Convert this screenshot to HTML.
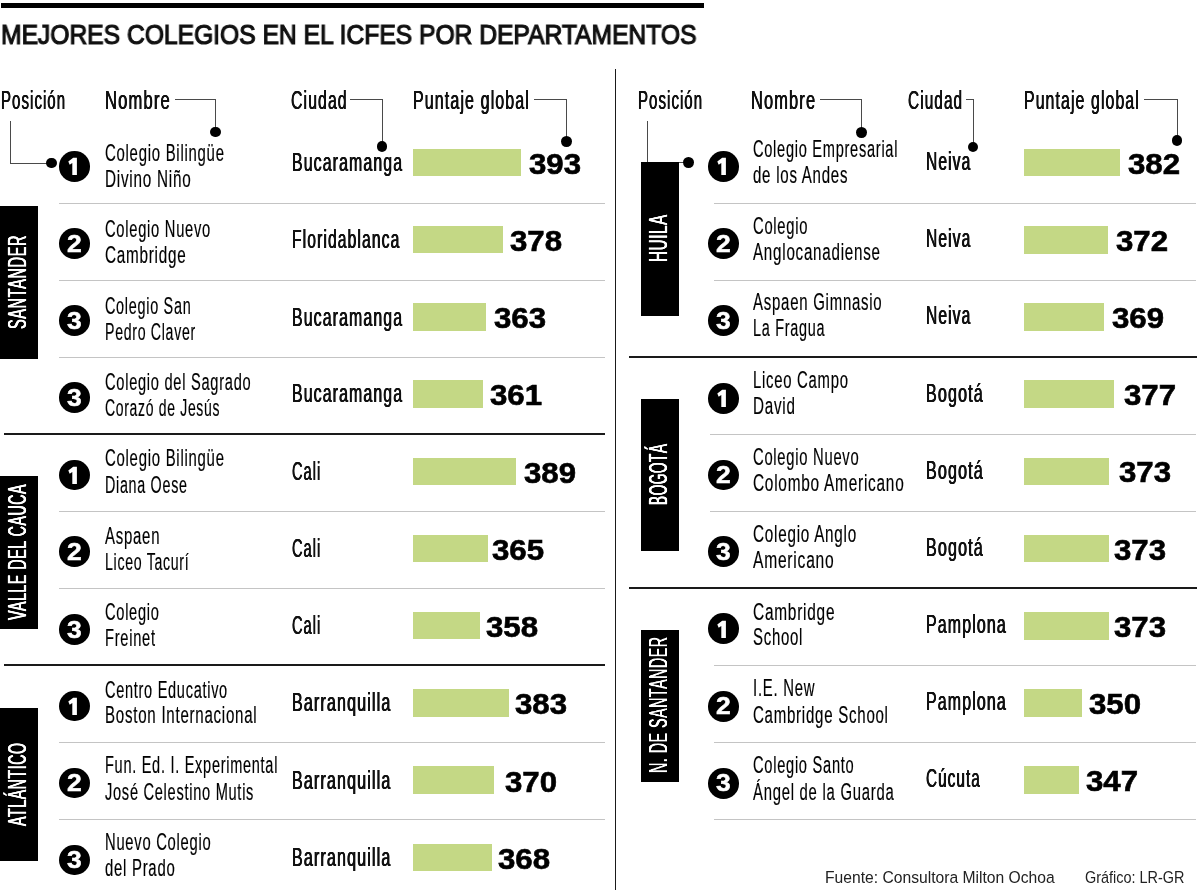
<!DOCTYPE html>
<html lang="es"><head><meta charset="utf-8"><title>Mejores colegios en el ICFES por departamentos</title>
<style>
html,body{margin:0;padding:0;background:#fff}
body{width:1200px;height:893px;position:relative;overflow:hidden;font-family:"Liberation Sans",sans-serif;color:#111}
#g div{position:absolute}
#t{will-change:transform}
#t span{position:absolute;white-space:nowrap;line-height:1;transform-origin:0 0;display:block}
.hdr{font-size:25px;color:#111;letter-spacing:0.07em;text-shadow:-.4px 0 #111,.4px 0 #111}
.city{font-size:25px;color:#111;letter-spacing:0.07em;text-shadow:-.5px 0 #111,.5px 0 #111}
.name{font-size:24.3px;color:#000;-webkit-text-stroke:.2px #000;letter-spacing:0.05em}
.title{font-size:26.9px;color:#111;-webkit-text-stroke:1.2px #111}
.foot{font-size:16.3px;color:#222}
.dept{font-size:25.5px;color:#fff;-webkit-text-stroke:.2px #fff;letter-spacing:0.04em;text-shadow:-.35px 0 #fff,.35px 0 #fff}
.num{font-size:29.4px;color:#000;font-weight:bold;-webkit-text-stroke:.6px #000}
.cnum{font-size:24.5px;color:#fff;font-weight:bold;-webkit-text-stroke:.5px #fff}

</style></head><body>
<div id="g">
<div style="left:1.00px;top:2.60px;width:703.00px;height:5.40px;background:#000"></div>
<div style="left:614.60px;top:68.75px;width:1.80px;height:821.50px;background:#1a1a1a"></div>
<div style="left:9.90px;top:121.10px;width:1.00px;height:42.40px;background:#4a4a4a"></div>
<div style="left:9.90px;top:162.50px;width:37.60px;height:1.00px;background:#4a4a4a"></div>
<div style="left:46.30px;top:157.70px;width:10.80px;height:10.80px;background:#000;border-radius:50%"></div>
<div style="left:174.50px;top:99.00px;width:41.50px;height:1.00px;background:#4a4a4a"></div>
<div style="left:215.00px;top:99.00px;width:1.00px;height:29.50px;background:#4a4a4a"></div>
<div style="left:210.10px;top:126.60px;width:10.80px;height:10.80px;background:#000;border-radius:50%"></div>
<div style="left:349.80px;top:99.20px;width:32.70px;height:1.00px;background:#4a4a4a"></div>
<div style="left:381.50px;top:99.20px;width:1.00px;height:43.30px;background:#4a4a4a"></div>
<div style="left:376.60px;top:141.00px;width:10.80px;height:10.80px;background:#000;border-radius:50%"></div>
<div style="left:533.70px;top:99.20px;width:33.00px;height:1.00px;background:#4a4a4a"></div>
<div style="left:565.70px;top:99.20px;width:1.00px;height:38.30px;background:#4a4a4a"></div>
<div style="left:560.80px;top:135.90px;width:10.80px;height:10.80px;background:#000;border-radius:50%"></div>
<div style="left:647.00px;top:120.75px;width:1.00px;height:42.05px;background:#4a4a4a"></div>
<div style="left:647.00px;top:161.80px;width:37.50px;height:1.00px;background:#4a4a4a"></div>
<div style="left:683.35px;top:157.10px;width:10.80px;height:10.80px;background:#000;border-radius:50%"></div>
<div style="left:820.00px;top:98.75px;width:41.75px;height:1.00px;background:#4a4a4a"></div>
<div style="left:860.75px;top:98.75px;width:1.00px;height:29.75px;background:#4a4a4a"></div>
<div style="left:855.85px;top:127.10px;width:10.80px;height:10.80px;background:#000;border-radius:50%"></div>
<div style="left:965.75px;top:98.75px;width:7.75px;height:1.00px;background:#4a4a4a"></div>
<div style="left:972.50px;top:98.75px;width:1.00px;height:44.75px;background:#4a4a4a"></div>
<div style="left:967.60px;top:141.60px;width:10.80px;height:10.80px;background:#000;border-radius:50%"></div>
<div style="left:1144.00px;top:98.75px;width:33.50px;height:1.00px;background:#4a4a4a"></div>
<div style="left:1176.50px;top:98.75px;width:1.00px;height:38.75px;background:#4a4a4a"></div>
<div style="left:1171.60px;top:135.35px;width:10.80px;height:10.80px;background:#000;border-radius:50%"></div>
<div style="left:59.10px;top:150.90px;width:30.70px;height:30.70px;background:#000;border-radius:50%"></div>
<svg style="position:absolute;left:62.45px;top:154.25px" width="24" height="24" viewBox="0 0 24 24"><polygon points="11.2,3.7 14.9,3.7 14.9,20.9 10.3,20.9 10.3,9.0 7.7,10.8 6.3,7.4" fill="#fff"/></svg>
<div style="left:413.20px;top:148.70px;width:107.70px;height:27.50px;background:#c4d885"></div>
<div style="left:59.10px;top:228.40px;width:30.70px;height:30.70px;background:#000;border-radius:50%"></div>
<div style="left:413.20px;top:225.80px;width:89.80px;height:27.70px;background:#c4d885"></div>
<div style="left:59.10px;top:305.15px;width:30.70px;height:30.70px;background:#000;border-radius:50%"></div>
<div style="left:413.20px;top:303.20px;width:72.80px;height:27.80px;background:#c4d885"></div>
<div style="left:59.10px;top:382.15px;width:30.70px;height:30.70px;background:#000;border-radius:50%"></div>
<div style="left:413.20px;top:380.00px;width:70.30px;height:28.00px;background:#c4d885"></div>
<div style="left:59.10px;top:459.65px;width:30.70px;height:30.70px;background:#000;border-radius:50%"></div>
<svg style="position:absolute;left:62.45px;top:463.00px" width="24" height="24" viewBox="0 0 24 24"><polygon points="11.2,3.7 14.9,3.7 14.9,20.9 10.3,20.9 10.3,9.0 7.7,10.8 6.3,7.4" fill="#fff"/></svg>
<div style="left:413.20px;top:457.70px;width:102.80px;height:27.20px;background:#c4d885"></div>
<div style="left:59.10px;top:536.40px;width:30.70px;height:30.70px;background:#000;border-radius:50%"></div>
<div style="left:413.20px;top:534.60px;width:75.10px;height:27.20px;background:#c4d885"></div>
<div style="left:59.10px;top:614.15px;width:30.70px;height:30.70px;background:#000;border-radius:50%"></div>
<div style="left:413.20px;top:612.00px;width:66.80px;height:27.40px;background:#c4d885"></div>
<div style="left:59.10px;top:690.65px;width:30.70px;height:30.70px;background:#000;border-radius:50%"></div>
<svg style="position:absolute;left:62.45px;top:694.00px" width="24" height="24" viewBox="0 0 24 24"><polygon points="11.2,3.7 14.9,3.7 14.9,20.9 10.3,20.9 10.3,9.0 7.7,10.8 6.3,7.4" fill="#fff"/></svg>
<div style="left:413.20px;top:689.30px;width:95.80px;height:27.50px;background:#c4d885"></div>
<div style="left:59.10px;top:767.65px;width:30.70px;height:30.70px;background:#000;border-radius:50%"></div>
<div style="left:413.20px;top:766.40px;width:80.80px;height:27.60px;background:#c4d885"></div>
<div style="left:59.10px;top:844.65px;width:30.70px;height:30.70px;background:#000;border-radius:50%"></div>
<div style="left:413.20px;top:843.80px;width:78.80px;height:27.50px;background:#c4d885"></div>
<div style="left:58.90px;top:203.00px;width:546.10px;height:1.00px;background:#c4c4c4"></div>
<div style="left:58.90px;top:280.00px;width:546.10px;height:1.00px;background:#c4c4c4"></div>
<div style="left:58.90px;top:357.00px;width:546.10px;height:1.00px;background:#c4c4c4"></div>
<div style="left:58.90px;top:510.80px;width:546.10px;height:1.00px;background:#c4c4c4"></div>
<div style="left:58.90px;top:587.70px;width:546.10px;height:1.00px;background:#c4c4c4"></div>
<div style="left:58.90px;top:741.70px;width:546.10px;height:1.00px;background:#c4c4c4"></div>
<div style="left:58.90px;top:818.80px;width:546.10px;height:1.00px;background:#c4c4c4"></div>
<div style="left:3.75px;top:433.10px;width:601.25px;height:1.80px;background:#1a1a1a"></div>
<div style="left:3.75px;top:664.10px;width:601.25px;height:1.80px;background:#1a1a1a"></div>
<div style="left:0.00px;top:205.50px;width:38.00px;height:153.25px;background:#000"></div>
<div style="left:0.00px;top:475.50px;width:38.00px;height:153.50px;background:#000"></div>
<div style="left:0.00px;top:707.60px;width:38.00px;height:153.40px;background:#000"></div>
<div style="left:707.95px;top:150.90px;width:30.70px;height:30.70px;background:#000;border-radius:50%"></div>
<svg style="position:absolute;left:711.30px;top:154.25px" width="24" height="24" viewBox="0 0 24 24"><polygon points="11.2,3.7 14.9,3.7 14.9,20.9 10.3,20.9 10.3,9.0 7.7,10.8 6.3,7.4" fill="#fff"/></svg>
<div style="left:1024.25px;top:148.75px;width:95.25px;height:27.50px;background:#c4d885"></div>
<div style="left:707.95px;top:228.40px;width:30.70px;height:30.70px;background:#000;border-radius:50%"></div>
<div style="left:1024.25px;top:225.75px;width:83.25px;height:28.00px;background:#c4d885"></div>
<div style="left:707.95px;top:305.15px;width:30.70px;height:30.70px;background:#000;border-radius:50%"></div>
<div style="left:1024.25px;top:303.00px;width:80.00px;height:27.50px;background:#c4d885"></div>
<div style="left:707.95px;top:382.90px;width:30.70px;height:30.70px;background:#000;border-radius:50%"></div>
<svg style="position:absolute;left:711.30px;top:386.25px" width="24" height="24" viewBox="0 0 24 24"><polygon points="11.2,3.7 14.9,3.7 14.9,20.9 10.3,20.9 10.3,9.0 7.7,10.8 6.3,7.4" fill="#fff"/></svg>
<div style="left:1024.25px;top:380.00px;width:89.50px;height:27.50px;background:#c4d885"></div>
<div style="left:707.95px;top:459.65px;width:30.70px;height:30.70px;background:#000;border-radius:50%"></div>
<div style="left:1024.25px;top:457.50px;width:84.50px;height:27.00px;background:#c4d885"></div>
<div style="left:707.95px;top:536.40px;width:30.70px;height:30.70px;background:#000;border-radius:50%"></div>
<div style="left:1024.25px;top:534.50px;width:84.50px;height:27.50px;background:#c4d885"></div>
<div style="left:707.95px;top:613.40px;width:30.70px;height:30.70px;background:#000;border-radius:50%"></div>
<svg style="position:absolute;left:711.30px;top:616.75px" width="24" height="24" viewBox="0 0 24 24"><polygon points="11.2,3.7 14.9,3.7 14.9,20.9 10.3,20.9 10.3,9.0 7.7,10.8 6.3,7.4" fill="#fff"/></svg>
<div style="left:1024.25px;top:612.00px;width:84.50px;height:27.50px;background:#c4d885"></div>
<div style="left:707.95px;top:690.90px;width:30.70px;height:30.70px;background:#000;border-radius:50%"></div>
<div style="left:1024.25px;top:688.75px;width:57.75px;height:28.00px;background:#c4d885"></div>
<div style="left:707.95px;top:767.90px;width:30.70px;height:30.70px;background:#000;border-radius:50%"></div>
<div style="left:1024.25px;top:766.25px;width:54.75px;height:27.50px;background:#c4d885"></div>
<div style="left:713.75px;top:202.75px;width:482.25px;height:1.00px;background:#c4c4c4"></div>
<div style="left:713.75px;top:280.00px;width:482.25px;height:1.00px;background:#c4c4c4"></div>
<div style="left:710.00px;top:434.25px;width:486.00px;height:1.00px;background:#c4c4c4"></div>
<div style="left:710.00px;top:511.25px;width:486.00px;height:1.00px;background:#c4c4c4"></div>
<div style="left:713.75px;top:665.00px;width:482.25px;height:1.00px;background:#c4c4c4"></div>
<div style="left:713.75px;top:742.00px;width:482.25px;height:1.00px;background:#c4c4c4"></div>
<div style="left:713.75px;top:818.75px;width:482.25px;height:1.00px;background:#c4c4c4"></div>
<div style="left:628.75px;top:356.30px;width:568.00px;height:1.80px;background:#1a1a1a"></div>
<div style="left:628.75px;top:587.10px;width:568.00px;height:1.80px;background:#1a1a1a"></div>
<div style="left:641.25px;top:162.00px;width:38.00px;height:153.50px;background:#000"></div>
<div style="left:641.25px;top:398.75px;width:38.00px;height:152.50px;background:#000"></div>
<div style="left:641.25px;top:629.50px;width:38.00px;height:152.50px;background:#000"></div>
</div>
<div id="t">
<span class="title" style="left:0.80px;top:21.63px;transform:scaleX(0.9162)">MEJORES COLEGIOS EN EL ICFES POR DEPARTAMENTOS</span>
<span class="hdr" style="left:1.30px;top:87.84px;transform:scaleX(0.6005)">Posición</span>
<span class="hdr" style="left:104.60px;top:87.84px;transform:scaleX(0.6634)">Nombre</span>
<span class="hdr" style="left:290.90px;top:87.84px;transform:scaleX(0.6319)">Ciudad</span>
<span class="hdr" style="left:412.80px;top:87.84px;transform:scaleX(0.6396)">Puntaje global</span>
<span class="hdr" style="left:638.05px;top:87.74px;transform:scaleX(0.6005)">Posición</span>
<span class="hdr" style="left:750.90px;top:87.74px;transform:scaleX(0.6558)">Nombre</span>
<span class="hdr" style="left:908.40px;top:87.74px;transform:scaleX(0.6143)">Ciudad</span>
<span class="hdr" style="left:1023.90px;top:87.74px;transform:scaleX(0.6335)">Puntaje global</span>
<span class="name" style="left:104.90px;top:140.78px;transform:scaleX(0.6137)">Colegio Bilingüe</span>
<span class="name" style="left:104.90px;top:167.03px;transform:scaleX(0.6283)">Divino Niño</span>
<span class="city" style="left:292.40px;top:149.89px;transform:scaleX(0.6358)">Bucaramanga</span>
<span class="num" style="left:528.80px;top:148.81px;transform:scaleX(1.0622)">393</span>
<span class="cnum" style="left:66.88px;top:231.96px;transform:scaleX(1.0800)">2</span>
<span class="name" style="left:104.90px;top:217.03px;transform:scaleX(0.6047)">Colegio Nuevo</span>
<span class="name" style="left:104.90px;top:243.03px;transform:scaleX(0.6277)">Cambridge</span>
<span class="city" style="left:292.40px;top:227.09px;transform:scaleX(0.6271)">Floridablanca</span>
<span class="num" style="left:510.40px;top:226.01px;transform:scaleX(1.0622)">378</span>
<span class="cnum" style="left:66.88px;top:308.71px;transform:scaleX(1.0800)">3</span>
<span class="name" style="left:104.90px;top:293.78px;transform:scaleX(0.5929)">Colegio San</span>
<span class="name" style="left:104.90px;top:319.53px;transform:scaleX(0.5813)">Pedro Claver</span>
<span class="city" style="left:292.40px;top:304.54px;transform:scaleX(0.6358)">Bucaramanga</span>
<span class="num" style="left:494.20px;top:303.46px;transform:scaleX(1.0622)">363</span>
<span class="cnum" style="left:66.88px;top:385.71px;transform:scaleX(1.0800)">3</span>
<span class="name" style="left:104.90px;top:370.03px;transform:scaleX(0.6019)">Colegio del Sagrado</span>
<span class="name" style="left:104.90px;top:396.28px;transform:scaleX(0.5742)">Corazó de Jesús</span>
<span class="city" style="left:292.40px;top:381.44px;transform:scaleX(0.6358)">Bucaramanga</span>
<span class="num" style="left:489.90px;top:380.36px;transform:scaleX(1.0622)">361</span>
<span class="name" style="left:104.90px;top:446.28px;transform:scaleX(0.6137)">Colegio Bilingüe</span>
<span class="name" style="left:104.90px;top:473.03px;transform:scaleX(0.5885)">Diana Oese</span>
<span class="city" style="left:292.40px;top:458.74px;transform:scaleX(0.5835)">Cali</span>
<span class="num" style="left:524.40px;top:457.66px;transform:scaleX(1.0622)">389</span>
<span class="cnum" style="left:66.88px;top:539.96px;transform:scaleX(1.0800)">2</span>
<span class="name" style="left:104.90px;top:523.78px;transform:scaleX(0.6153)">Aspaen</span>
<span class="name" style="left:104.90px;top:550.03px;transform:scaleX(0.5816)">Liceo Tacurí</span>
<span class="city" style="left:292.40px;top:535.64px;transform:scaleX(0.5835)">Cali</span>
<span class="num" style="left:492.40px;top:534.56px;transform:scaleX(1.0622)">365</span>
<span class="cnum" style="left:66.88px;top:617.71px;transform:scaleX(1.0800)">3</span>
<span class="name" style="left:104.90px;top:600.33px;transform:scaleX(0.6015)">Colegio</span>
<span class="name" style="left:104.90px;top:626.03px;transform:scaleX(0.6025)">Freinet</span>
<span class="city" style="left:292.40px;top:613.14px;transform:scaleX(0.5835)">Cali</span>
<span class="num" style="left:486.30px;top:612.06px;transform:scaleX(1.0622)">358</span>
<span class="name" style="left:104.90px;top:677.53px;transform:scaleX(0.5972)">Centro Educativo</span>
<span class="name" style="left:104.90px;top:703.03px;transform:scaleX(0.6202)">Boston Internacional</span>
<span class="city" style="left:292.40px;top:690.49px;transform:scaleX(0.6439)">Barranquilla</span>
<span class="num" style="left:515.40px;top:689.41px;transform:scaleX(1.0622)">383</span>
<span class="cnum" style="left:66.88px;top:771.21px;transform:scaleX(1.0800)">2</span>
<span class="name" style="left:104.90px;top:753.33px;transform:scaleX(0.5974)">Fun. Ed. I. Experimental</span>
<span class="name" style="left:104.90px;top:779.53px;transform:scaleX(0.6002)">José Celestino Mutis</span>
<span class="city" style="left:292.40px;top:767.64px;transform:scaleX(0.6439)">Barranquilla</span>
<span class="num" style="left:505.20px;top:766.56px;transform:scaleX(1.0622)">370</span>
<span class="cnum" style="left:66.88px;top:848.21px;transform:scaleX(1.0800)">3</span>
<span class="name" style="left:104.90px;top:830.43px;transform:scaleX(0.6076)">Nuevo Colegio</span>
<span class="name" style="left:104.90px;top:855.73px;transform:scaleX(0.6128)">del Prado</span>
<span class="city" style="left:292.40px;top:844.99px;transform:scaleX(0.6439)">Barranquilla</span>
<span class="num" style="left:498.40px;top:843.91px;transform:scaleX(1.0622)">368</span>
<span class="dept" style="left:4.81px;top:328.57px;transform:rotate(-90deg) scaleX(0.5717)">SANTANDER</span>
<span class="dept" style="left:4.81px;top:619.70px;transform:rotate(-90deg) scaleX(0.5556)">VALLE DEL CAUCA</span>
<span class="dept" style="left:4.81px;top:825.50px;transform:rotate(-90deg) scaleX(0.5557)">ATLÁNTICO</span>
<span class="name" style="left:753.20px;top:137.03px;transform:scaleX(0.6003)">Colegio Empresarial</span>
<span class="name" style="left:753.20px;top:162.53px;transform:scaleX(0.6193)">de los Andes</span>
<span class="city" style="left:926.10px;top:149.44px;transform:scaleX(0.6239)">Neiva</span>
<span class="num" style="left:1128.15px;top:148.86px;transform:scaleX(1.0622)">382</span>
<span class="cnum" style="left:715.73px;top:231.96px;transform:scaleX(1.0800)">2</span>
<span class="name" style="left:753.20px;top:213.78px;transform:scaleX(0.6071)">Colegio</span>
<span class="name" style="left:753.20px;top:239.53px;transform:scaleX(0.6240)">Anglocanadiense</span>
<span class="city" style="left:926.10px;top:226.44px;transform:scaleX(0.6239)">Neiva</span>
<span class="num" style="left:1116.40px;top:226.11px;transform:scaleX(1.0622)">372</span>
<span class="cnum" style="left:715.73px;top:308.71px;transform:scaleX(1.0800)">3</span>
<span class="name" style="left:753.20px;top:290.03px;transform:scaleX(0.6164)">Aspaen Gimnasio</span>
<span class="name" style="left:753.20px;top:316.28px;transform:scaleX(0.5930)">La Fragua</span>
<span class="city" style="left:926.10px;top:303.19px;transform:scaleX(0.6239)">Neiva</span>
<span class="num" style="left:1112.40px;top:303.11px;transform:scaleX(1.0622)">369</span>
<span class="name" style="left:753.20px;top:367.53px;transform:scaleX(0.6113)">Liceo Campo</span>
<span class="name" style="left:753.20px;top:393.78px;transform:scaleX(0.6262)">David</span>
<span class="city" style="left:926.10px;top:381.44px;transform:scaleX(0.6449)">Bogotá</span>
<span class="num" style="left:1123.65px;top:380.11px;transform:scaleX(1.0622)">377</span>
<span class="cnum" style="left:715.73px;top:463.21px;transform:scaleX(1.0800)">2</span>
<span class="name" style="left:753.20px;top:444.53px;transform:scaleX(0.6076)">Colegio Nuevo</span>
<span class="name" style="left:753.20px;top:471.28px;transform:scaleX(0.6326)">Colombo Americano</span>
<span class="city" style="left:926.10px;top:458.19px;transform:scaleX(0.6449)">Bogotá</span>
<span class="num" style="left:1119.40px;top:457.36px;transform:scaleX(1.0622)">373</span>
<span class="cnum" style="left:715.73px;top:539.96px;transform:scaleX(1.0800)">3</span>
<span class="name" style="left:753.20px;top:522.03px;transform:scaleX(0.6272)">Colegio Anglo</span>
<span class="name" style="left:753.20px;top:548.03px;transform:scaleX(0.6412)">Americano</span>
<span class="city" style="left:926.10px;top:535.19px;transform:scaleX(0.6449)">Bogotá</span>
<span class="num" style="left:1114.40px;top:534.61px;transform:scaleX(1.0622)">373</span>
<span class="name" style="left:753.20px;top:599.53px;transform:scaleX(0.6335)">Cambridge</span>
<span class="name" style="left:753.20px;top:625.03px;transform:scaleX(0.6152)">School</span>
<span class="city" style="left:926.10px;top:612.44px;transform:scaleX(0.6389)">Pamplona</span>
<span class="num" style="left:1114.40px;top:612.11px;transform:scaleX(1.0622)">373</span>
<span class="cnum" style="left:715.73px;top:694.46px;transform:scaleX(1.0800)">2</span>
<span class="name" style="left:753.20px;top:675.78px;transform:scaleX(0.6125)">I.E. New</span>
<span class="name" style="left:753.20px;top:702.53px;transform:scaleX(0.6187)">Cambridge School</span>
<span class="city" style="left:926.10px;top:689.44px;transform:scaleX(0.6389)">Pamplona</span>
<span class="num" style="left:1089.40px;top:689.11px;transform:scaleX(1.0622)">350</span>
<span class="cnum" style="left:715.73px;top:771.46px;transform:scaleX(1.0800)">3</span>
<span class="name" style="left:753.20px;top:753.28px;transform:scaleX(0.6022)">Colegio Santo</span>
<span class="name" style="left:753.20px;top:780.03px;transform:scaleX(0.6116)">Ángel de la Guarda</span>
<span class="city" style="left:926.10px;top:766.19px;transform:scaleX(0.6110)">Cúcuta</span>
<span class="num" style="left:1085.65px;top:766.36px;transform:scaleX(1.0622)">347</span>
<span class="dept" style="left:646.06px;top:262.07px;transform:rotate(-90deg) scaleX(0.5966)">HUILA</span>
<span class="dept" style="left:646.06px;top:505.20px;transform:rotate(-90deg) scaleX(0.5342)">BOGOTÁ</span>
<span class="dept" style="left:646.06px;top:773.45px;transform:rotate(-90deg) scaleX(0.5556)">N. DE SANTANDER</span>
<span class="foot" style="left:825.15px;top:868.70px;transform:scaleX(0.9614)">Fuente: Consultora Milton Ochoa</span>
<span class="foot" style="left:1084.90px;top:868.70px;transform:scaleX(0.8865)">Gráfico: LR-GR</span>
</div>
</body></html>
